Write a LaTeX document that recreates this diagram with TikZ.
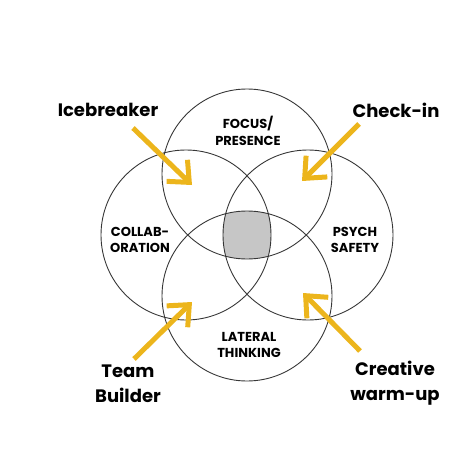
\documentclass[tikz,border=0pt]{standalone}
\usepackage{fontspec}
\setmainfont{Poppins}
\usetikzlibrary{arrows.meta}
\definecolor{gold}{RGB}{236,181,28}
\definecolor{ring}{RGB}{55,55,55}

\begin{document}
\begin{tikzpicture}[x=1pt,y=-1pt,
circ/.style={draw=ring,line width=0.9pt},
topic/.style={font=\bfseries\fontsize{13}{16.5}\selectfont,align=center,inner sep=0pt},
game/.style={font=\bfseries\fontsize{18}{25}\selectfont,align=center,inner sep=0pt},
push/.style={draw=gold,line width=5pt,-{Straight Barb[length=17pt,width=30pt]}}]
\useasboundingbox (0,0) rectangle (474,474);
\coordinate (T) at (247,174);
\coordinate (L) at (186,235);
\coordinate (R) at (308,235);
\coordinate (B) at (247,296);
\begin{scope}
\clip (T) circle (85);
\clip (L) circle (85);
\clip (R) circle (85);
\fill[gray!45] (B) circle (85);
\end{scope}
\draw[circ] (T) circle (85);
\draw[circ] (L) circle (85);
\draw[circ] (R) circle (85);
\draw[circ] (B) circle (85);
\node[topic] (focus) at (248,131) {FOCUS/\\PRESENCE};
\node[topic] (collab) at (140,240) {COLLAB-\\ORATION};
\node[topic] (psych) at (355,240) {PSYCH\\SAFETY};
\node[topic] (lateral) at (249,345) {LATERAL\\THINKING};
\node[game] (ice) at (108,110) {Icebreaker};
\node[game] (check) at (396,110) {Check-in};
\node[game] (team) at (128,384) {Team\\Builder};
\node[game] (warm) at (395,383) {Creative\\warm-up};
\coordinate (ice-a) at (133,128);
\coordinate (ice-b) at (192,185);
\coordinate (check-a) at (359,124);
\coordinate (check-b) at (302,181);
\coordinate (team-a) at (134,359);
\coordinate (team-b) at (192,302);
\coordinate (warm-a) at (360,351);
\coordinate (warm-b) at (303,293);
\draw[push] (ice-a) -- (ice-b);
\draw[push] (check-a) -- (check-b);
\draw[push] (team-a) -- (team-b);
\draw[push] (warm-a) -- (warm-b);
\end{tikzpicture}
\end{document}
